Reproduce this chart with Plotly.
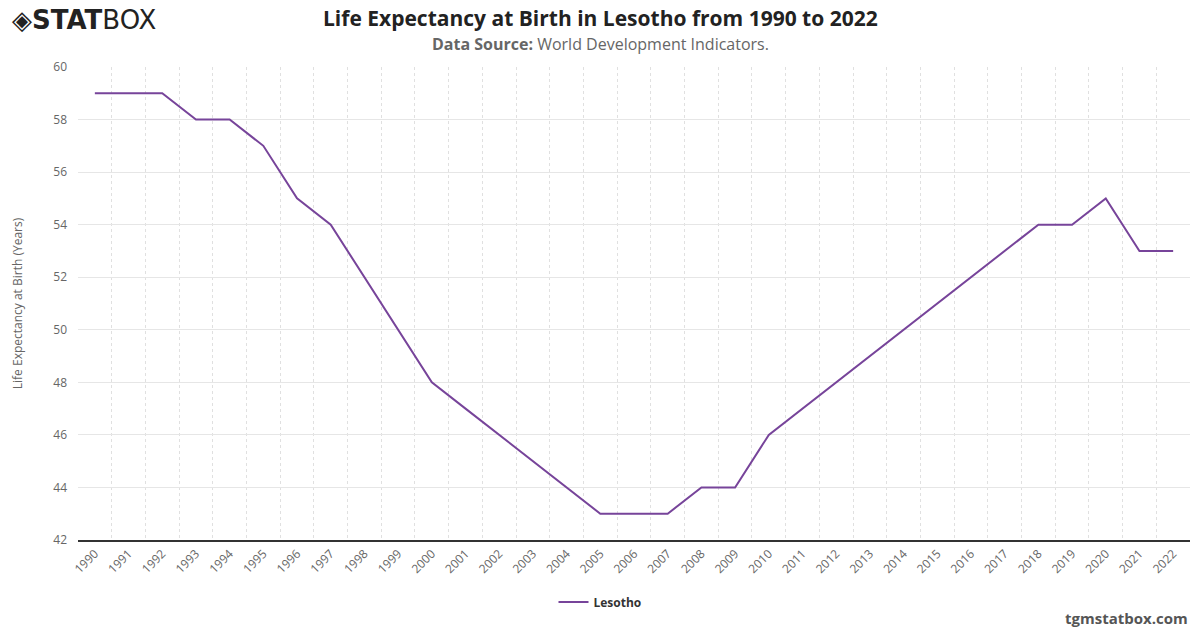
import plotly.graph_objects as go

years = [str(y) for y in range(1990, 2023)]
life_exp = [59, 59, 59, 58, 58, 57, 55, 54, 52, 50, 48, 47, 46, 45, 44, 43, 43, 43,
            44, 44, 46, 47, 48, 49, 50, 51, 52, 53, 54, 54, 55, 53, 53]
series_name = "Lesotho"
y_ticks = [42, 44, 46, 48, 50, 52, 54, 56, 58, 60]

W, H = 1200, 630
L, R, T, B = 78, 10, 67, 90
ph = H - T - B

def py(p):
    return (H - B - p) / ph

def px(p):
    return (p - L) / (W - L - R)

fig = go.Figure()
fig.add_trace(go.Scatter(
    x=years, y=life_exp, mode="lines", name=series_name,
    line=dict(color="#77449a", width=2),
))

fig.update_layout(
    width=W, height=H,
    margin=dict(l=L, r=R, t=T, b=B),
    paper_bgcolor="white", plot_bgcolor="white",
    font=dict(family="Open Sans, DejaVu Sans, sans-serif", color="#666666"),
    showlegend=True,
    legend=dict(orientation="h", x=px(600), xanchor="center", y=py(602), yanchor="middle",
                font=dict(size=12, color="#333333", family="Open Sans, sans-serif", weight="bold"),
                itemwidth=30),
    xaxis=dict(
        type="category", tickson="boundaries", showgrid=True, griddash="dot",
        gridcolor="#e0e0e0", gridwidth=1, showline=True, linecolor="#333333", linewidth=2,
        tickangle=-45, tickfont=dict(size=12, color="#666666"), ticks="",
        range=[-0.5, len(years) - 0.5],
    ),
    yaxis=dict(
        range=[42, 60], tickvals=y_ticks, showgrid=True, gridcolor="#e6e6e6", gridwidth=1,
        zeroline=False, showline=False, tickfont=dict(size=12, color="#666666"),
        title=dict(text="Life Expectancy at Birth (Years)", font=dict(size=12, color="#666666"), standoff=28),
        ticklabelstandoff=10,
    ),
    annotations=[
        dict(text="<b>Life Expectancy at Birth in Lesotho from 1990 to 2022</b>",
             xref="paper", yref="paper", x=px(600), y=py(18), xanchor="center", yanchor="middle",
             showarrow=False, font=dict(size=21, color="#222222", family="Open Sans, sans-serif")),
        dict(text="<b>Data Source:</b> World Development Indicators.",
             xref="paper", yref="paper", x=px(600), y=py(44), xanchor="center", yanchor="middle",
             showarrow=False, font=dict(size=16, color="#666666", family="Open Sans, sans-serif")),
        dict(text="<b>tgmstatbox.com</b>",
             xref="paper", yref="paper", x=px(1190), y=py(618), xanchor="right", yanchor="middle",
             showarrow=False, font=dict(size=15, color="#555555", family="Open Sans, sans-serif")),
        dict(text="◈<b>STAT</b>BOX",
             xref="paper", yref="paper", x=px(10), y=py(20), xanchor="left", yanchor="middle",
             showarrow=False, font=dict(size=26, color="#222222", family="DejaVu Sans, sans-serif")),
    ],
)

fig.write_html("out.html")
